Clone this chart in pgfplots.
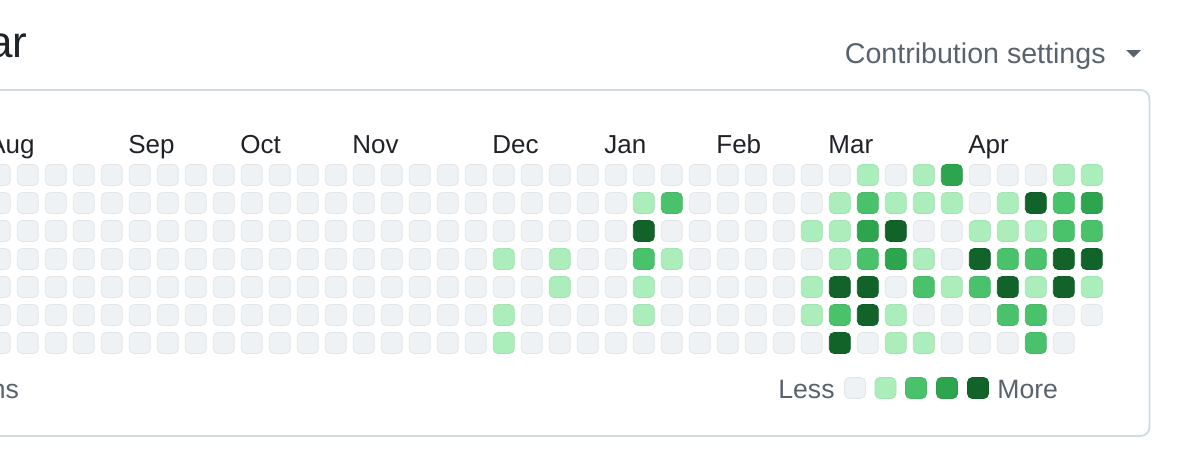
\documentclass[border=0pt]{standalone}
\usepackage{fontspec}
\setmainfont{Liberation Sans}
\usepackage{pgfplots}
\usepackage{pgfplotstable}
\pgfplotsset{compat=1.18}
\definecolor{fg}{HTML}{1F2328}
\definecolor{muted}{HTML}{59636E}
\definecolor{bord}{HTML}{D1D9E0}

\pgfdeclareplotmark{rsq}{%
  \pgfsetcornersarced{\pgfpoint{2.4pt}{2.4pt}}%
  \pgfpathmoveto{\pgfpoint{-5.25pt}{0pt}}%
  \pgfpathlineto{\pgfpoint{-5.25pt}{5.25pt}}%
  \pgfpathlineto{\pgfpoint{5.25pt}{5.25pt}}%
  \pgfpathlineto{\pgfpoint{5.25pt}{-5.25pt}}%
  \pgfpathlineto{\pgfpoint{-5.25pt}{-5.25pt}}%
  \pgfpathclose
  \pgfusepath{fill,stroke}}

\pgfplotsset{cells/.style={scatter, only marks, mark=rsq, point meta=explicit,
  scatter/use mapped color={draw=mapped color!95!black, fill=mapped color}}}
\tikzset{month/.style={anchor=base west, inner sep=0, text=fg, font=\fontsize{13}{15}\selectfont},
  foot/.style={inner sep=0, text=muted, font=\fontsize{13.3}{16}\selectfont}}

% contribution level per week (column) and weekday (row 0..6)
\pgfplotstableread{
w  r0 r1 r2 r3 r4 r5 r6
0  0 0 0 0 0 0 0
1  0 0 0 0 0 0 0
2  0 0 0 0 0 0 0
3  0 0 0 0 0 0 0
4  0 0 0 0 0 0 0
5  0 0 0 0 0 0 0
6  0 0 0 0 0 0 0
7  0 0 0 0 0 0 0
8  0 0 0 0 0 0 0
9  0 0 0 0 0 0 0
10 0 0 0 0 0 0 0
11 0 0 0 0 0 0 0
12 0 0 0 0 0 0 0
13 0 0 0 0 0 0 0
14 0 0 0 0 0 0 0
15 0 0 0 0 0 0 0
16 0 0 0 0 0 0 0
17 0 0 0 0 0 0 0
18 0 0 0 1 0 1 1
19 0 0 0 0 0 0 0
20 0 0 0 1 1 0 0
21 0 0 0 0 0 0 0
22 0 0 0 0 0 0 0
23 0 1 4 2 1 1 0
24 0 2 0 1 0 0 0
25 0 0 0 0 0 0 0
26 0 0 0 0 0 0 0
27 0 0 0 0 0 0 0
28 0 0 0 0 0 0 0
29 0 0 1 0 1 1 0
30 0 1 1 1 4 2 4
31 1 2 3 2 4 4 0
32 0 1 4 3 0 1 1
33 1 1 0 1 2 0 1
34 3 1 0 0 1 0 0
35 0 0 1 4 2 0 0
36 0 1 1 2 4 2 0
37 0 4 1 2 1 2 2
38 1 2 2 4 4 0 0
39 1 3 2 4 1 0 0
}\weeks

\begin{document}
\begin{tikzpicture}
\path[use as bounding box] (0,0) rectangle (600pt,233pt);
\clip (0,0) rectangle (600pt,233pt);
\begin{axis}[at={(0,0)}, anchor=south west, scale only axis,
  width=600pt, height=233pt, xmin=0, xmax=1200, ymin=0, ymax=466,
  y dir=reverse, hide axis, clip=false,
  colormap={gh}{rgb255=(239,242,245) rgb255=(172,238,187) rgb255=(74,194,107) rgb255=(45,164,78) rgb255=(17,99,41)},
  point meta min=0, point meta max=4]

% card border
\draw[bord, line width=0.9pt, rounded corners=4.5pt]
  (axis cs:-60,90) rectangle (axis cs:1149.5,436);

% title (cut at left)
\node[anchor=base east, inner sep=0, text=fg, font=\fontsize{22}{26}\selectfont]
  at (axis cs:28,57) {last year};
\node[anchor=base west, inner sep=0, text=muted, font=\fontsize{14.3}{17}\selectfont]
  at (axis cs:844.5,63) {Contribution settings};
\fill[muted] (axis cs:1126,50) -- (axis cs:1141,50) -- (axis cs:1133.5,57.5) -- cycle;

% month labels
\node[month] at (axis cs:-12,153) {Aug};
\node[month] at (axis cs:128,153) {Sep};
\node[month] at (axis cs:240,153) {Oct};
\node[month] at (axis cs:352,153) {Nov};
\node[month] at (axis cs:492,153) {Dec};
\node[month] at (axis cs:604,153) {Jan};
\node[month] at (axis cs:716,153) {Feb};
\node[month] at (axis cs:828,153) {Mar};
\node[month] at (axis cs:968,153) {Apr};

% cells
\addplot[cells] table[x expr=\thisrow{w}*28-0.2, y expr=175, meta=r0] {\weeks};
\addplot[cells] table[x expr=\thisrow{w}*28-0.2, y expr=203, meta=r1] {\weeks};
\addplot[cells] table[x expr=\thisrow{w}*28-0.2, y expr=231, meta=r2] {\weeks};
\addplot[cells] table[x expr=\thisrow{w}*28-0.2, y expr=259, meta=r3] {\weeks};
\addplot[cells] table[x expr=\thisrow{w}*28-0.2, y expr=287, meta=r4] {\weeks};
\addplot[cells] table[x expr=\thisrow{w}*28-0.2, y expr=315, meta=r5] {\weeks};
% last week ends before the final weekday
\addplot[cells, restrict x to domain=-20:1080] table[x expr=\thisrow{w}*28-0.2, y expr=343, meta=r6] {\weeks};

% footer
\node[foot, anchor=base east] at (axis cs:19.5,398) {Learn how we count contributions};
\node[foot, anchor=base west] at (axis cs:778,398) {Less};
\node[foot, anchor=base west] at (axis cs:997,398) {More};
\addplot[cells] coordinates {(855,388) [0] (885.5,388) [1] (916,388) [2] (947,388) [3] (978,388) [4]};
\end{axis}
\end{tikzpicture}
\end{document}
